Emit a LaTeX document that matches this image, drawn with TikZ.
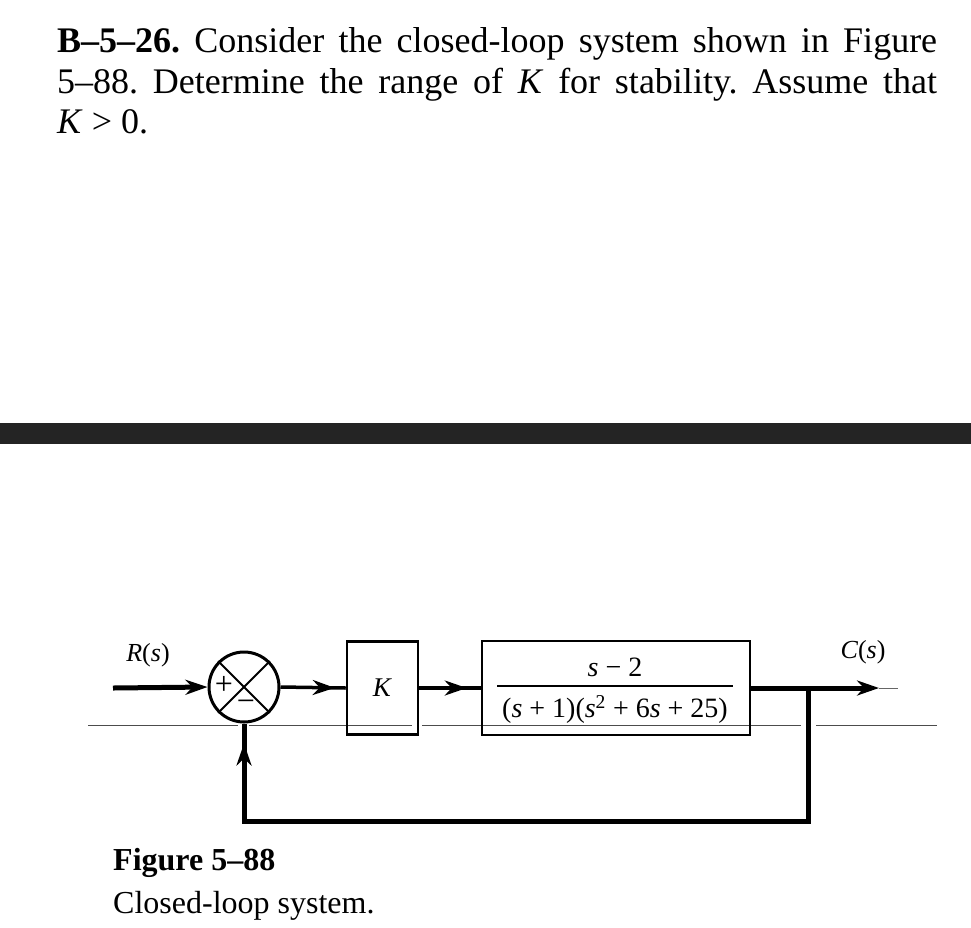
\documentclass[tikz,border=0pt]{standalone}
\usepackage{fontspec}
\setmainfont{Liberation Serif}
\usetikzlibrary{arrows.meta,decorations.markings}
\frenchspacing
\tikzset{
  tipshape/.tip={Stealth[length=22pt,width=15pt,inset=7pt]},
  arrowat/.style={postaction={decorate,decoration={markings,mark=at position #1 with {\arrow{tipshape}}}}},
  blockbox/.style={draw,line width=2.5pt,inner sep=0pt},
  sig/.style={line width=#1},
  lbl/.style={inner sep=0pt,font=\fontsize{26}{30}\selectfont},
  signlbl/.style={inner sep=0pt,font=\fontsize{32}{34}\selectfont},
  body/.style={anchor=base west,inner sep=0pt,font=\fontsize{36}{40}\selectfont},
  captxt/.style={anchor=base west,inner sep=0pt,font=\fontsize{32}{38}\selectfont},
  scanline/.style={line width=1pt,black!70}
}
\begin{document}
\begin{tikzpicture}[x=1pt,y=-1pt]
\useasboundingbox (0,0) rectangle (971,927);

% problem text
\node[body] (l1) at (57,52) {\makebox[880pt][s]{\textbf{B–5–26.} Consider the closed-loop system shown in Figure}};
\node[body] (l2) at (57,93) {\makebox[880pt][s]{5–88. Determine the range of \textit{K} for stability. Assume that}};
\node[body] (l3) at (57,133) {\textit{K} > 0.};

% dark bar
\fill[black!86] (0,423) rectangle (971,444);

% scan line
\draw[scanline] (88,725) -- (238,725);
\draw[scanline] (249,725) -- (412,725);
\draw[scanline] (422,725) -- (801,725);
\draw[scanline] (816,725) -- (937,725);

% blocks
\node[circle,draw,line width=3pt,minimum size=70pt,inner sep=0pt] (sum) at (244,687) {};
\draw[line width=2pt] (sum.north west) -- (sum.south east);
\draw[line width=2pt] (sum.north east) -- (sum.south west);
\node[signlbl] (plus) at (224,685) {+};
\node[signlbl] (minus) at (246,706) {−};

\node[blockbox,minimum width=71pt,minimum height=93pt,font=\fontsize{27}{30}\selectfont] (kbox) at (382.5,688) {\textit{K}};
\node[blockbox,minimum width=268pt,minimum height=94pt] (gbox) at (616,688) {};
\node[inner sep=0pt,font=\fontsize{28}{32}\selectfont] (num) at (615,667) {\textit{s} − 2};
\node[inner sep=0pt,font=\fontsize{28}{32}\selectfont] (den) at (615,709) {(\textit{s} + 1)(\textit{s}\textsuperscript{2} + 6\textit{s} + 25)};
\coordinate (fl) at (497,686);
\coordinate (fr) at (733,686);
\draw[line width=1.5pt] (fl) -- (fr);

% labels
\node[lbl] (rlab) at (148,655) {\textit{R}(\textit{s})};
\node[lbl] (clab) at (863,652) {\textit{C}(\textit{s})};

% connectors
\coordinate (rin) at (113,688);
\coordinate (branch) at (808,688);
\coordinate (ctip) at (879,688);
\coordinate (cout) at (898,688);
\coordinate (fbr) at (808,821);

\draw[sig=5pt,-tipshape] (rin) -- (sum.west);
\draw[sig=3.5pt,arrowat=-11pt] (sum.east) -- (kbox.west);
\draw[sig=3.5pt,arrowat=-14pt] (kbox.east) -- (gbox.west);
\draw[sig=5pt,-tipshape] (gbox.east) -- (ctip);
\draw[sig=1pt,black!60] (ctip) -- (cout);
\draw[sig=5pt,arrowat=-20pt] (branch) -- (fbr) -| (sum.south);

% caption
\node[captxt,font=\fontsize{32}{38}\selectfont\bfseries] (figno) at (113,870) {Figure 5–88};
\node[captxt] (captext) at (113,913) {Closed-loop system.};
\end{tikzpicture}
\end{document}
